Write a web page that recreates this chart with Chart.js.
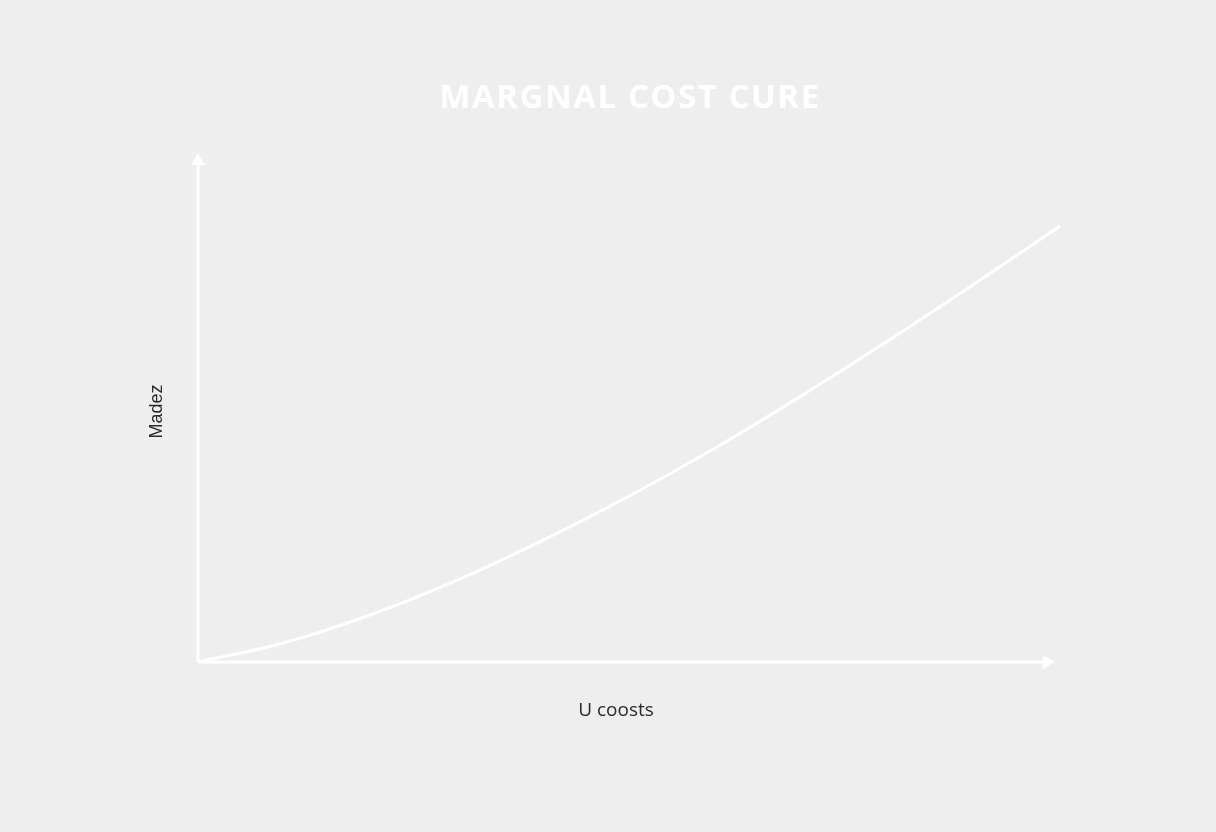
<!DOCTYPE html>
<html>
<head>
<meta charset="utf-8">
<script src="https://cdn.jsdelivr.net/npm/chart.js@4.4.1/dist/chart.umd.min.js"></script>
<style>
  html, body { margin: 0; padding: 0; background: #eeeeee; }
  #wrap { width: 1216px; height: 832px; position: relative; }
</style>
</head>
<body>
<div id="wrap"><canvas id="c" width="1216" height="832"></canvas></div>
<script>
// ---- data ----
const quantity = [0, 1, 2, 3, 4, 5, 6, 7, 8, 9, 10];
const marginalCost = [0, 0.38, 0.93, 1.61, 2.40, 3.27, 4.22, 5.25, 6.33, 7.45, 8.60];
const chartTitle = 'MARGNAL COST CURE';
const xAxisLabel = 'U coosts';
const yAxisLabel = 'Madez';
const xAxisEnd = 9.94;
const yAxisEnd = 10.0;

const arrowAxes = {
  id: 'arrowAxes',
  beforeDatasetsDraw(chart) {
    const ctx = chart.ctx;
    const xs = chart.scales.x, ys = chart.scales.y;
    const x0 = xs.getPixelForValue(0), y0 = ys.getPixelForValue(0);
    const xe = xs.getPixelForValue(xAxisEnd), ye = ys.getPixelForValue(yAxisEnd);
    ctx.save();
    ctx.strokeStyle = '#ffffff';
    ctx.fillStyle = '#ffffff';
    ctx.lineWidth = 3;
    ctx.beginPath();
    ctx.moveTo(x0, y0); ctx.lineTo(x0, ye + 8);
    ctx.moveTo(x0, y0); ctx.lineTo(xe - 8, y0);
    ctx.stroke();
    ctx.beginPath();
    ctx.moveTo(x0, ye - 2); ctx.lineTo(x0 - 7, ye + 10); ctx.lineTo(x0 + 7, ye + 10); ctx.closePath();
    ctx.fill();
    ctx.beginPath();
    ctx.moveTo(xe, y0); ctx.lineTo(xe - 12, y0 - 7); ctx.lineTo(xe - 12, y0 + 7); ctx.closePath();
    ctx.fill();
    ctx.restore();
  },
  afterDraw(chart) {
    const ctx = chart.ctx;
    const a = chart.chartArea;
    ctx.save();
    // title
    ctx.fillStyle = '#ffffff';
    ctx.font = 'bold 33px "Open Sans", sans-serif';
    ctx.textAlign = 'center';
    ctx.textBaseline = 'middle';
    if ('letterSpacing' in ctx) ctx.letterSpacing = '1.5px';
    ctx.fillText(chartTitle, (a.left + a.right) / 2 + 1, a.top - 56);
    if ('letterSpacing' in ctx) ctx.letterSpacing = '0px';
    // x label
    ctx.fillStyle = '#2a2a2a';
    ctx.font = '19px "Open Sans", sans-serif';
    ctx.fillText(xAxisLabel, 616, a.bottom + 49);
    // y label
    ctx.translate(a.left - 41, (a.top + a.bottom) / 2 + 3);
    ctx.rotate(-Math.PI / 2);
    ctx.font = '18px "Liberation Sans", sans-serif';
    ctx.fillText(yAxisLabel, 0, 0);
    ctx.restore();
  }
};

new Chart(document.getElementById('c'), {
  type: 'line',
  data: {
    labels: quantity,
    datasets: [{
      label: 'Marginal cost',
      data: quantity.map((q, i) => ({ x: q, y: marginalCost[i] })),
      borderColor: '#ffffff',
      borderWidth: 3,
      pointRadius: 0,
      fill: false,
      tension: 0.4
    }]
  },
  options: {
    responsive: false,
    animation: false,
    layout: { padding: { left: 198, right: 156, top: 155, bottom: 170 } },
    plugins: { legend: { display: false }, title: { display: false }, tooltip: { enabled: false } },
    scales: {
      x: { type: 'linear', min: 0, max: 10, display: false },
      y: { type: 'linear', min: 0, max: 10, display: false }
    }
  },
  plugins: [arrowAxes]
});
</script>
</body>
</html>
